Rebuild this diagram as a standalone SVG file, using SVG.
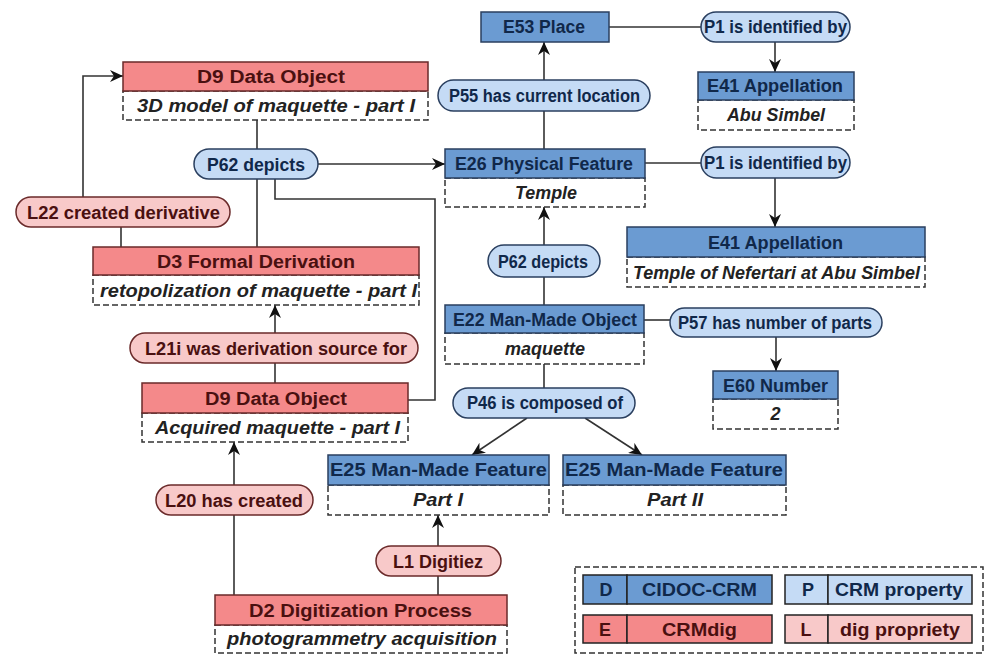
<svg xmlns="http://www.w3.org/2000/svg" width="1002" height="670" viewBox="0 0 1002 670">
<style>
text{font-family:"Liberation Sans",Arial,sans-serif;font-weight:bold;font-size:18px;text-anchor:middle}
.hb{fill:#6b9bd2;stroke:#2a3f5f;stroke-width:1.5}
.hr{fill:#f4898a;stroke:#6a2a2a;stroke-width:1.5}
.sub{fill:#fff;stroke:#333;stroke-width:1.5;stroke-dasharray:6 3}
.pb{fill:#c5dbf5;stroke:#2a3f5f;stroke-width:1.5}
.pr{fill:#f8c9c9;stroke:#6a2a2a;stroke-width:1.5}
.tb{fill:#10284a}
.tr{fill:#4a1010}
.ts{fill:#222;font-style:italic}
.ln{fill:none;stroke:#333;stroke-width:1.6}
.ar{fill:none;stroke:#333;stroke-width:1.6;marker-end:url(#ah)}
.lg{fill:none;stroke:#333;stroke-width:1.5;stroke-dasharray:6 3}
.cell{stroke:#222;stroke-width:1.5}
</style>
<defs>
<marker id="ah" markerWidth="14" markerHeight="12" refX="13" refY="6" orient="auto" markerUnits="userSpaceOnUse">
<path d="M0,0 L13,6 L0,12 L4,6 Z" fill="#111"/>
</marker>
</defs>
<g id="connectors">
<path class="ln" d="M544,149 V111"/>
<path class="ar" d="M544,80 V42"/>
<path class="ln" d="M609,27 H701"/>
<path class="ar" d="M775,42 V72"/>
<path class="ln" d="M645,163 H701"/>
<path class="ar" d="M775,178 V227"/>
<path class="ln" d="M544,305 V277"/>
<path class="ar" d="M544,245 V207"/>
<path class="ln" d="M644,320 H670"/>
<path class="ar" d="M776,337 V371"/>
<path class="ln" d="M544,364 V388"/>
<path class="ar" d="M527,418 L472,455"/>
<path class="ar" d="M585,418 L642,455"/>
<path class="ln" d="M257,120 V149"/>
<path class="ln" d="M257,179 V247"/>
<path class="ar" d="M318,164 H445"/>
<path class="ln" d="M275,179 V199 H435 V400 H408"/>
<path class="ln" d="M121,247 V227"/>
<path class="ar" d="M83,197 V76 H123"/>
<path class="ln" d="M275,383 V363"/>
<path class="ar" d="M275,333 V305"/>
<path class="ln" d="M234,595 V515"/>
<path class="ar" d="M234,485 V442"/>
<path class="ln" d="M438,595 V576"/>
<path class="ar" d="M438,546 V515"/>
</g>
<g id="e53">
<rect class="hb" x="481" y="12" width="128" height="30"/>
<text class="tb" x="544" y="33" textLength="82" lengthAdjust="spacingAndGlyphs">E53 Place</text>
</g>
<g id="p1a">
<rect class="pb" x="701" y="12" width="149" height="30" rx="15"/>
<text class="tb" x="775.5" y="33" textLength="143" lengthAdjust="spacingAndGlyphs">P1 is identified by</text>
</g>
<g id="e41a">
<rect class="sub" x="698" y="100" width="156" height="30"/>
<rect class="hb" x="698" y="72" width="156" height="28"/>
<text class="tb" x="775" y="92" textLength="136" lengthAdjust="spacingAndGlyphs">E41 Appellation</text>
<text class="ts" x="776" y="121" textLength="98" lengthAdjust="spacingAndGlyphs">Abu Simbel</text>
</g>
<g id="p55">
<rect class="pb" x="438" y="80" width="212" height="31" rx="15.5"/>
<text class="tb" x="544.5" y="102" textLength="191" lengthAdjust="spacingAndGlyphs">P55 has current location</text>
</g>
<g id="e26">
<rect class="sub" x="445" y="178" width="200" height="29"/>
<rect class="hb" x="445" y="149" width="200" height="29"/>
<text class="tb" x="544" y="170" textLength="178" lengthAdjust="spacingAndGlyphs">E26 Physical Feature</text>
<text class="ts" x="546" y="199" textLength="62" lengthAdjust="spacingAndGlyphs">Temple</text>
</g>
<g id="p1b">
<rect class="pb" x="701" y="147" width="149" height="31" rx="15.5"/>
<text class="tb" x="775.5" y="169" textLength="143" lengthAdjust="spacingAndGlyphs">P1 is identified by</text>
</g>
<g id="e41b">
<rect class="sub" x="627" y="257" width="298" height="30"/>
<rect class="hb" x="627" y="227" width="298" height="30"/>
<text class="tb" x="775.5" y="249" textLength="135" lengthAdjust="spacingAndGlyphs">E41 Appellation</text>
<text class="ts" x="776.5" y="279" textLength="287" lengthAdjust="spacingAndGlyphs">Temple of Nefertari at Abu Simbel</text>
</g>
<g id="p62b">
<rect class="pb" x="488" y="245" width="112" height="32" rx="16"/>
<text class="tb" x="543" y="268" textLength="90" lengthAdjust="spacingAndGlyphs">P62 depicts</text>
</g>
<g id="e22">
<rect class="sub" x="445" y="333" width="199" height="31"/>
<rect class="hb" x="445" y="305" width="199" height="28"/>
<text class="tb" x="545" y="326" textLength="184" lengthAdjust="spacingAndGlyphs">E22 Man-Made Object</text>
<text class="ts" x="545" y="355" textLength="80" lengthAdjust="spacingAndGlyphs">maquette</text>
</g>
<g id="p57">
<rect class="pb" x="670" y="308" width="212" height="29" rx="14.5"/>
<text class="tb" x="775" y="329" textLength="194" lengthAdjust="spacingAndGlyphs">P57 has number of parts</text>
</g>
<g id="e60">
<rect class="sub" x="713" y="399" width="125" height="30"/>
<rect class="hb" x="713" y="371" width="125" height="28"/>
<text class="tb" x="775.5" y="392" textLength="105" lengthAdjust="spacingAndGlyphs">E60 Number</text>
<text class="ts" x="775.5" y="420">2</text>
</g>
<g id="p46">
<rect class="pb" x="453" y="388" width="182" height="30" rx="15"/>
<text class="tb" x="545" y="409" textLength="156" lengthAdjust="spacingAndGlyphs">P46 is composed of</text>
</g>
<g id="e25a">
<rect class="sub" x="328" y="485" width="221" height="30"/>
<rect class="hb" x="328" y="455" width="221" height="30"/>
<text class="tb" x="438.5" y="476" textLength="217" lengthAdjust="spacingAndGlyphs">E25 Man-Made Feature</text>
<text class="ts" x="438" y="506" textLength="50" lengthAdjust="spacingAndGlyphs">Part I</text>
</g>
<g id="e25b">
<rect class="sub" x="563" y="485" width="223" height="30"/>
<rect class="hb" x="563" y="455" width="223" height="30"/>
<text class="tb" x="674" y="476" textLength="218" lengthAdjust="spacingAndGlyphs">E25 Man-Made Feature</text>
<text class="ts" x="675" y="506" textLength="56" lengthAdjust="spacingAndGlyphs">Part II</text>
</g>
<g id="d9a">
<rect class="sub" x="123" y="91" width="305" height="29"/>
<rect class="hr" x="123" y="62" width="305" height="29"/>
<text class="tr" x="271" y="83" textLength="148" lengthAdjust="spacingAndGlyphs">D9 Data Object</text>
<text class="ts" x="276" y="112" textLength="278" lengthAdjust="spacingAndGlyphs">3D model of maquette - part I</text>
</g>
<g id="p62a">
<rect class="pb" x="194" y="149" width="124" height="30" rx="15"/>
<text class="tb" x="256" y="171" textLength="98" lengthAdjust="spacingAndGlyphs">P62 depicts</text>
</g>
<g id="l22">
<rect class="pr" x="16" y="197" width="214" height="30" rx="15"/>
<text class="tr" x="123.5" y="219" textLength="193" lengthAdjust="spacingAndGlyphs">L22 created derivative</text>
</g>
<g id="d3">
<rect class="sub" x="93" y="275" width="326" height="30"/>
<rect class="hr" x="93" y="247" width="326" height="28"/>
<text class="tr" x="256" y="268" textLength="198" lengthAdjust="spacingAndGlyphs">D3 Formal Derivation</text>
<text class="ts" x="258.5" y="297" textLength="317" lengthAdjust="spacingAndGlyphs">retopolization of maquette - part I</text>
</g>
<g id="l21i">
<rect class="pr" x="130" y="333" width="288" height="30" rx="15"/>
<text class="tr" x="276" y="355" textLength="262" lengthAdjust="spacingAndGlyphs">L21i was derivation source for</text>
</g>
<g id="d9b">
<rect class="sub" x="142" y="413" width="266" height="29"/>
<rect class="hr" x="142" y="383" width="266" height="30"/>
<text class="tr" x="276" y="405" textLength="142" lengthAdjust="spacingAndGlyphs">D9 Data Object</text>
<text class="ts" x="277.5" y="434" textLength="245" lengthAdjust="spacingAndGlyphs">Acquired maquette - part I</text>
</g>
<g id="l20">
<rect class="pr" x="156" y="485" width="157" height="30" rx="15"/>
<text class="tr" x="234" y="507" textLength="138" lengthAdjust="spacingAndGlyphs">L20 has created</text>
</g>
<g id="l1">
<rect class="pr" x="376" y="546" width="125" height="30" rx="15"/>
<text class="tr" x="438" y="568" textLength="90" lengthAdjust="spacingAndGlyphs">L1 Digitiez</text>
</g>
<g id="d2">
<rect class="sub" x="215" y="625" width="292" height="28"/>
<rect class="hr" x="215" y="595" width="292" height="30"/>
<text class="tr" x="360.5" y="617" textLength="223" lengthAdjust="spacingAndGlyphs">D2 Digitization Process</text>
<text class="ts" x="362" y="645" textLength="270" lengthAdjust="spacingAndGlyphs">photogrammetry acquisition</text>
</g>
<g id="legend">
<rect class="lg" x="575" y="567" width="408" height="86"/>
<rect class="cell" fill="#6b9bd2" x="583" y="575" width="44" height="29"/>
<rect class="cell" fill="#6b9bd2" x="627" y="575" width="145" height="29"/>
<text class="tb" x="606" y="596">D</text>
<text class="tb" x="699.5" y="596" textLength="115" lengthAdjust="spacingAndGlyphs">CIDOC-CRM</text>
<rect class="cell" fill="#c5dbf5" x="785" y="575" width="43" height="29"/>
<rect class="cell" fill="#c5dbf5" x="828" y="575" width="144" height="29"/>
<text class="tb" x="808" y="596">P</text>
<text class="tb" x="899" y="596" textLength="128" lengthAdjust="spacingAndGlyphs">CRM property</text>
<rect class="cell" fill="#f4898a" x="583" y="615" width="44" height="28"/>
<rect class="cell" fill="#f4898a" x="627" y="615" width="145" height="28"/>
<text class="tr" x="605" y="636">E</text>
<text class="tr" x="699.5" y="636" textLength="75" lengthAdjust="spacingAndGlyphs">CRMdig</text>
<rect class="cell" fill="#f8c9c9" x="785" y="615" width="43" height="28"/>
<rect class="cell" fill="#f8c9c9" x="828" y="615" width="144" height="28"/>
<text class="tr" x="806" y="636">L</text>
<text class="tr" x="900" y="636" textLength="120" lengthAdjust="spacingAndGlyphs">dig propriety</text>
</g>
</svg>
